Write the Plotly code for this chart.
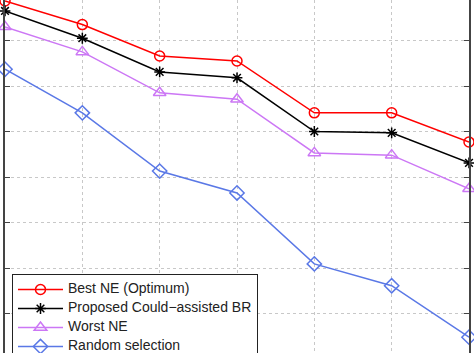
import plotly.graph_objects as go

x_vals = [1, 2, 3, 4, 5, 6, 7]
best_ne = [7.87, 7.35, 6.66, 6.55, 5.41, 5.41, 4.77]
proposed = [7.65, 7.05, 6.31, 6.18, 5.00, 4.97, 4.31]
worst_ne = [7.30, 6.75, 5.85, 5.71, 4.53, 4.48, 3.74]
random_sel = [6.37, 5.41, 4.13, 3.65, 2.09, 1.61, 0.48]

names = ["Best NE (Optimum)", "Proposed Could\u2212assisted BR", "Worst NE", "Random selection"]
series = [best_ne, proposed, worst_ne, random_sel]
colors = ["#ff0000", "#000000", "#cc77f5", "#5a78e6"]
symbols = ["circle-open", "asterisk-open", "triangle-up-open", "diamond-open"]
sizes = [10, 9, 11, 11]

fig = go.Figure()
for n, s, c, sym, sz in zip(names, series, colors, symbols, sizes):
    fig.add_trace(go.Scatter(
        x=x_vals, y=s, name='<span style="font-size:14px">' + n + '</span>',
        mode="lines+markers",
        line=dict(color=c, width=1.5),
        marker=dict(symbol=sym, size=sz, color=c, line=dict(color=c, width=1.5)),
        cliponaxis=False,
    ))

fig.update_layout(
    width=474, height=353,
    margin=dict(l=5, r=5, t=0, b=0, autoexpand=False),
    paper_bgcolor="white", plot_bgcolor="white",
    font=dict(family="Liberation Sans, Arial, sans-serif", size=14, color="#222"),
    showlegend=True,
    legend=dict(
        x=(12 - 5) / 464, xanchor="left",
        y=1 - 274 / 353, yanchor="top",
        bgcolor="white", bordercolor="#222", borderwidth=1,
        itemwidth=45, tracegroupgap=0,
        font=dict(size=10),
    ),
)
fig.update_xaxes(
    range=[1, 7], dtick=1, tick0=1, showticklabels=False,
    showgrid=True, gridcolor="#c8c8c8", griddash="dot", gridwidth=1,
    showline=False, zeroline=False, ticks="",
)
fig.update_yaxes(
    range=[(359 - 353) / 45.5, 359 / 45.5], dtick=1, tick0=0, showticklabels=False,
    showgrid=True, gridcolor="#c8c8c8", griddash="dot", gridwidth=1,
    showline=True, linecolor="#444", linewidth=1.5, mirror="ticks",
    ticks="inside", ticklen=5, tickcolor="#444", zeroline=False,
)

fig.write_html("out.html")
